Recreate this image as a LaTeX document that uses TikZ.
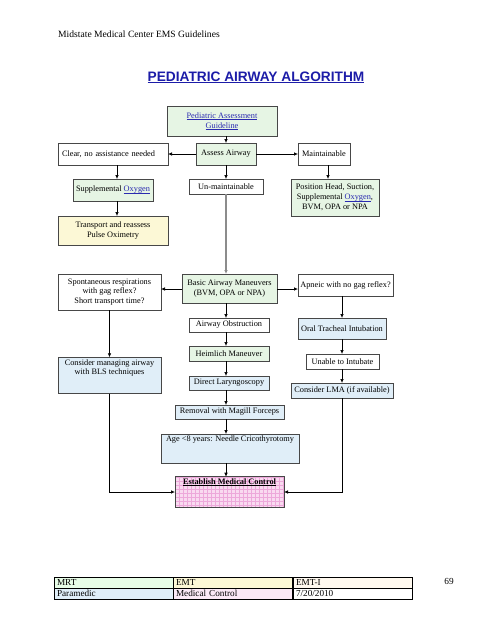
\documentclass[tikz,border=0pt]{standalone}
\usepackage{fontspec}
\setmainfont{Liberation Serif}
\newfontfamily\titlefont{Liberation Sans}
\usetikzlibrary{arrows.meta}
\definecolor{linkblue}{HTML}{2A2AB0}
\definecolor{titleblue}{HTML}{1C1CA8}
\definecolor{gfill}{HTML}{E6F5E4}
\definecolor{yfill}{HTML}{FCF8D6}
\definecolor{bfill}{HTML}{E0EEF8}
\definecolor{pfill}{HTML}{F9DAF0}
\definecolor{pgrid}{HTML}{EDA8DA}
\definecolor{bhatch}{HTML}{C9DEEF}
\newsavebox{\myulbox}
\newcommand{\myul}[1]{\sbox{\myulbox}{#1}\rlap{\rule[-1.4pt]{\wd\myulbox}{0.45pt}}\usebox{\myulbox}}
\newcommand{\lnk}[1]{\textcolor{linkblue}{\myul{#1}}}
\tikzset{
  bx/.style={draw=black!72, line width=0.9pt, inner sep=2pt, outer sep=0pt, align=center,
    font=\fontsize{8.3}{9.8}\selectfont},
  gbox/.style={bx, fill=gfill},
  ybox/.style={bx, fill=yfill},
  bbox/.style={bx, fill=bfill, path picture={
      \foreach \k in {-40,-37,...,140}
        \draw[bhatch, line width=0.35pt] ([xshift=\k pt]path picture bounding box.south west) -- ++(40,40);}},
  wbox/.style={bx, fill=white},
  pbox/.style={bx, fill=pfill, path picture={
      \draw[pgrid, line width=0.35pt, step=4pt] (path picture bounding box.south west) grid (path picture bounding box.north east);}},
  arr/.style={draw=black, line width=0.7pt, -{Latex[length=4pt,width=3.6pt]}},
  cell/.style={draw=black, line width=0.6pt, minimum width=119pt, minimum height=11pt, inner sep=0pt,
    outer sep=0pt, text width=113pt, align=left, font=\fontsize{9.2}{10}\selectfont},
}
\begin{document}
\begin{tikzpicture}[x=1pt,y=-1pt]
\path[use as bounding box, fill=white] (0,0) rectangle (495,640);

\node[anchor=west, font=\fontsize{9.6}{11}\selectfont, inner sep=0pt] (hdr) at (58,34) {Midstate Medical Center EMS Guidelines};
\node[font=\titlefont\bfseries\fontsize{13.7}{15}\selectfont, text=titleblue, inner sep=0pt] (title) at (256,77) {\myul{PEDIATRIC AIRWAY ALGORITHM}};

% boxes
\node[gbox, minimum width=110pt, minimum height=30pt] (ped) at (222,121) {\lnk{Pediatric Assessment}\\\lnk{Guideline}};
\node[gbox, minimum width=60pt, minimum height=22pt] (assess) at (226,154) {Assess Airway};
\node[wbox, minimum width=110pt, minimum height=22pt, text width=102pt, align=left] (clear) at (113,154) {Clear, no assistance needed};
\node[wbox, minimum width=52pt, minimum height=22pt, text width=44pt, align=left] (maint) at (324,154) {Maintainable};
\node[gbox, minimum width=80pt, minimum height=22pt] (suppl) at (113,190) {Supplemental \lnk{Oxygen}};
\node[wbox, minimum width=74pt, minimum height=15pt] (unm) at (226,186.5) {Un-maintainable};
\node[gbox, minimum width=88pt, minimum height=37pt] (pos) at (335,197.5) {Position Head, Suction,\\Supplemental \lnk{Oxygen},\\BVM, OPA or NPA};
\node[ybox, minimum width=110pt, minimum height=29pt] (trans) at (113,230.5) {Transport and reassess\\Pulse Oximetry};

\node[wbox, minimum width=103pt, minimum height=36pt] (spont) at (109.5,292) {Spontaneous respirations\\with gag reflex?\\Short transport time?};
\node[gbox, minimum width=95pt, minimum height=29pt] (basic) at (229.5,288.5) {Basic Airway Maneuvers\\(BVM, OPA or NPA)};
\node[wbox, minimum width=95pt, minimum height=22pt] (apn) at (345.5,285) {Apneic with no gag reflex?};
\node[wbox, minimum width=80pt, minimum height=14pt] (obst) at (229,325) {Airway Obstruction};
\node[bbox, minimum width=88pt, minimum height=21pt] (oral) at (342,328.5) {Oral Tracheal Intubation};
\node[gbox, minimum width=80pt, minimum height=15pt] (heim) at (229,353.5) {Heimlich Maneuver};
\node[wbox, minimum width=73pt, minimum height=15pt] (unable) at (342.5,361.5) {Unable to Intubate};
\node[bbox, minimum width=103pt, minimum height=29pt] (bls) at (109.5,375.5) {Consider managing airway\\with BLS techniques\\[7pt]};
\node[bbox, minimum width=80pt, minimum height=14pt] (dl) at (229,383) {Direct Laryngoscopy};
\node[bbox, minimum width=102pt, minimum height=15pt] (lma) at (342,390.5) {Consider LMA (if available)};
\node[bbox, minimum width=109pt, minimum height=14pt] (mag) at (229.5,412) {Removal with Magill Forceps};
\node[bbox, minimum width=138pt, minimum height=29pt] (age) at (230,448.5) {Age <8 years: Needle Cricothyrotomy\\[9pt]};
\node[pbox, minimum width=109pt, minimum height=30pt] (est) at (229.5,492) {\textbf{\myul{Establish Medical Control}}\\[11pt]};

% connectors
\draw[arr] (ped.south -| assess) -- (assess.north);
\draw[arr] (assess.west) -- (clear.east);
\draw[arr] (assess.east) -- (maint.west);
\draw[arr] ([xshift=4pt]clear.south) -- ([xshift=4pt]suppl.north);
\draw[arr] ([xshift=4pt]suppl.south) -- ([xshift=4pt]trans.north);
\draw[arr] ([xshift=4pt]maint.south) -- ([xshift=4pt]maint.south |- pos.north);
\draw[arr] (assess.south) -- (unm.north);
\draw[draw=black!45, line width=1.2pt, -{Latex[length=4pt,width=3.6pt]}] (unm.south) -- (unm.south |- basic.north);
\draw[arr] (basic.west |- 0,289) -- (spont.east |- 0,289);
\draw[arr] (basic.east |- 0,289) -- (apn.west |- 0,289);
\draw[arr] (basic.south -| assess) -- (obst.north -| assess);
\draw[arr] (obst.south -| assess) -- (heim.north -| assess);
\draw[arr] (heim.south -| assess) -- (dl.north -| assess);
\draw[arr] (dl.south -| assess) -- (mag.north -| assess);
\draw[arr] (mag.south -| assess) -- (age.north -| assess);
\draw[arr] (age.south -| assess) -- (est.north -| assess);
\draw[arr] (apn.south -| oral) -- (oral.north);
\draw[arr] (oral.south) -- (unable.north -| oral);
\draw[arr] (unable.south -| oral) -- (lma.north);
\draw[arr] (spont.south) -- (bls.north);
\draw[arr] (bls.south) |- (est.west);
\draw[arr] (lma.south) |- (est.east);

% footer table
\node[cell, fill=gfill!70!green!25] (c1) at (113.5,582.5) {MRT};
\node[cell, fill=yfill] (c2) at (232.5,582.5) {EMT};
\node[cell, fill=yfill!70!orange!15] (c3) at (352.5,582.5) {EMT-I};
\node[cell, fill=bfill] (c4) at (113.5,593.5) {Paramedic};
\node[cell, fill=pfill!60] (c5) at (232.5,593.5) {Medical Control};
\node[cell, fill=white] (c6) at (352.5,593.5) {7/20/2010};
\draw[line width=1pt] (c1.north west) rectangle (c6.south east);
\node[font=\fontsize{9.3}{11}\selectfont, inner sep=0pt] (pg) at (449,581) {69};
\end{tikzpicture}
\end{document}
